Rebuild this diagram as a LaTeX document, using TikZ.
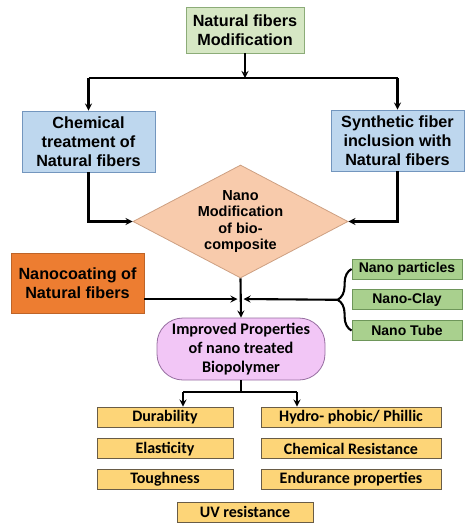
\documentclass[tikz,border=0pt]{standalone}
\usepackage{fontspec}
\setmainfont{Liberation Sans}
\newfontfamily\calibrifont{Carlito}
\usetikzlibrary{arrows.meta,calc,decorations.pathreplacing,positioning,shapes.geometric}
\definecolor{fibgreen}{RGB}{214,231,196}
\definecolor{fibgreenline}{RGB}{140,172,120}
\definecolor{chemblue}{RGB}{190,215,238}
\definecolor{chemblueline}{RGB}{115,150,190}
\definecolor{diapeach}{RGB}{248,203,172}
\definecolor{diapeachline}{RGB}{205,160,130}
\definecolor{coatorange}{RGB}{237,125,49}
\definecolor{coatorangeline}{RGB}{190,100,40}
\definecolor{nanogreen}{RGB}{169,208,142}
\definecolor{nanogreenline}{RGB}{110,150,90}
\definecolor{proppink}{RGB}{242,198,246}
\definecolor{proppinkline}{RGB}{150,110,160}
\definecolor{propgold}{RGB}{253,213,120}
\definecolor{propgoldline}{RGB}{105,92,70}
\tikzset{>=stealth,
	block/.style={% plain boxes with centred bold text
		draw, rectangle,
		line width=.8pt,
		inner sep=1pt,
		align=center,
		font=\fontsize{16.2}{19}\selectfont\bfseries
	},
	topbox/.style={block, fill=fibgreen, draw=fibgreenline,
		minimum width=118pt, minimum height=46pt},
	bluebox/.style={block, fill=chemblue, draw=chemblueline,
		minimum width=133pt, minimum height=61pt},
	nanodia/.style={
		draw=diapeachline, fill=diapeach,
		shape=diamond, aspect=2,
		line width=.8pt,
		inner sep=0pt,
		minimum width=215pt, minimum height=113pt,
		align=center,
		font=\fontsize{14.5}{16.5}\selectfont\bfseries
	},
	coatbox/.style={block, fill=coatorange, draw=coatorangeline,
		minimum width=133pt, minimum height=60pt,
		font=\fontsize{16.2}{19}\selectfont\bfseries},
	greenbox/.style={block, fill=nanogreen, draw=nanogreenline,
		minimum width=110pt, minimum height=20pt,
		font=\fontsize{14}{16}\selectfont\bfseries},
	propbox/.style={block, fill=proppink, draw=proppinkline,
		rounded corners=26pt,
		minimum width=168pt, minimum height=62pt,
		font=\calibrifont\fontsize{16.2}{19}\selectfont\bfseries},
	goldbox/.style={block, fill=propgold, draw=propgoldline,
		minimum width=136pt, minimum height=20pt,
		font=\calibrifont\fontsize{16}{18}\selectfont\bfseries},
	link/.style={line width=2.1pt}
}

\begin{document}
\begin{tikzpicture}[x=1pt,y=-1pt]
		\useasboundingbox (0,0) rectangle (474,531);

		\node[topbox] (mod) at (245,30) {Natural fibers\\Modification};
		\node[bluebox] (chem) at (88.5,141.5) {Chemical\\treatment of\\Natural fibers};
		\node[bluebox] (syn) at (397.5,140.5) {Synthetic fiber\\inclusion with\\Natural fibers};
		\node[nanodia] (nano) at (240.5,221.5) {Nano\\Modification\\of bio-\\composite};
		\node[coatbox] (coat) at (77.5,283) {Nanocoating of\\Natural fibers};
		\node[propbox] (prop) at (241,349) {Improved Properties\\of nano treated\\Biopolymer};

		\node[greenbox] (np) at (407,269) {Nano particles};
		\node[greenbox, below=10pt of np] (clay) {Nano-Clay};
		\node[greenbox, below=10pt of clay] (tube) {Nano Tube};

		\node[goldbox] (dur) at (165,417) {Durability};
		\node[goldbox, below=11pt of dur] (ela) {Elasticity};
		\node[goldbox, below=10pt of ela] (tough) {Toughness};
		\node[goldbox, minimum width=180pt] (hydro) at (351,417) {Hydro- phobic/ Phillic};
		\node[goldbox, minimum width=180pt, below=11pt of hydro] (chemres) {Chemical Resistance};
		\node[goldbox, minimum width=180pt, below=10pt of chemres] (endur) {Endurance properties};
		\node[goldbox] (uv) at (245,512) {UV resistance};

		% split below the top box
		\coordinate (split) at (245,78);
		\draw[link,->] (mod) -- (split);
		\draw[link] (chem.north |- split) -- (syn.north |- split);
		\draw[link,->] (chem.north |- split) -- (chem.north);
		\draw[link,->] (syn.north |- split) -- (syn.north);
		\draw[link,->] (chem.south) |- (nano.west);
		\draw[link,->] (syn.south) |- (nano.east);

		% both side inputs meet the middle line
		\draw[link,->] (nano.south) -- (prop.north);
		\coordinate (join) at (nano.south |- 0,299);
		\draw[link,->] (coat.east |- join) -- ($(join)+(-3,0)$);
		\draw[link, decorate, decoration={brace, amplitude=14pt}] (tube.west) -- (np.west);
		\coordinate (tip) at ($(np.west)!.5!(tube.west)+(-14,0)$);
		\draw[link,->] (tip) -- ($(join)+(3,0)$);

		% fork to the properties
		\coordinate (fork) at ($(prop.south)+(0,13)$);
		\coordinate (fl) at (183,392);
		\coordinate (fr) at (297,392);
		\draw[link] (prop.south) -- (fork);
		\draw[link] (fl) -- (fr);
		\draw[link,->] (fl) -- (fl |- dur.north);
		\draw[link,->] (fr) -- (fr |- hydro.north);
	\end{tikzpicture}
\end{document}
